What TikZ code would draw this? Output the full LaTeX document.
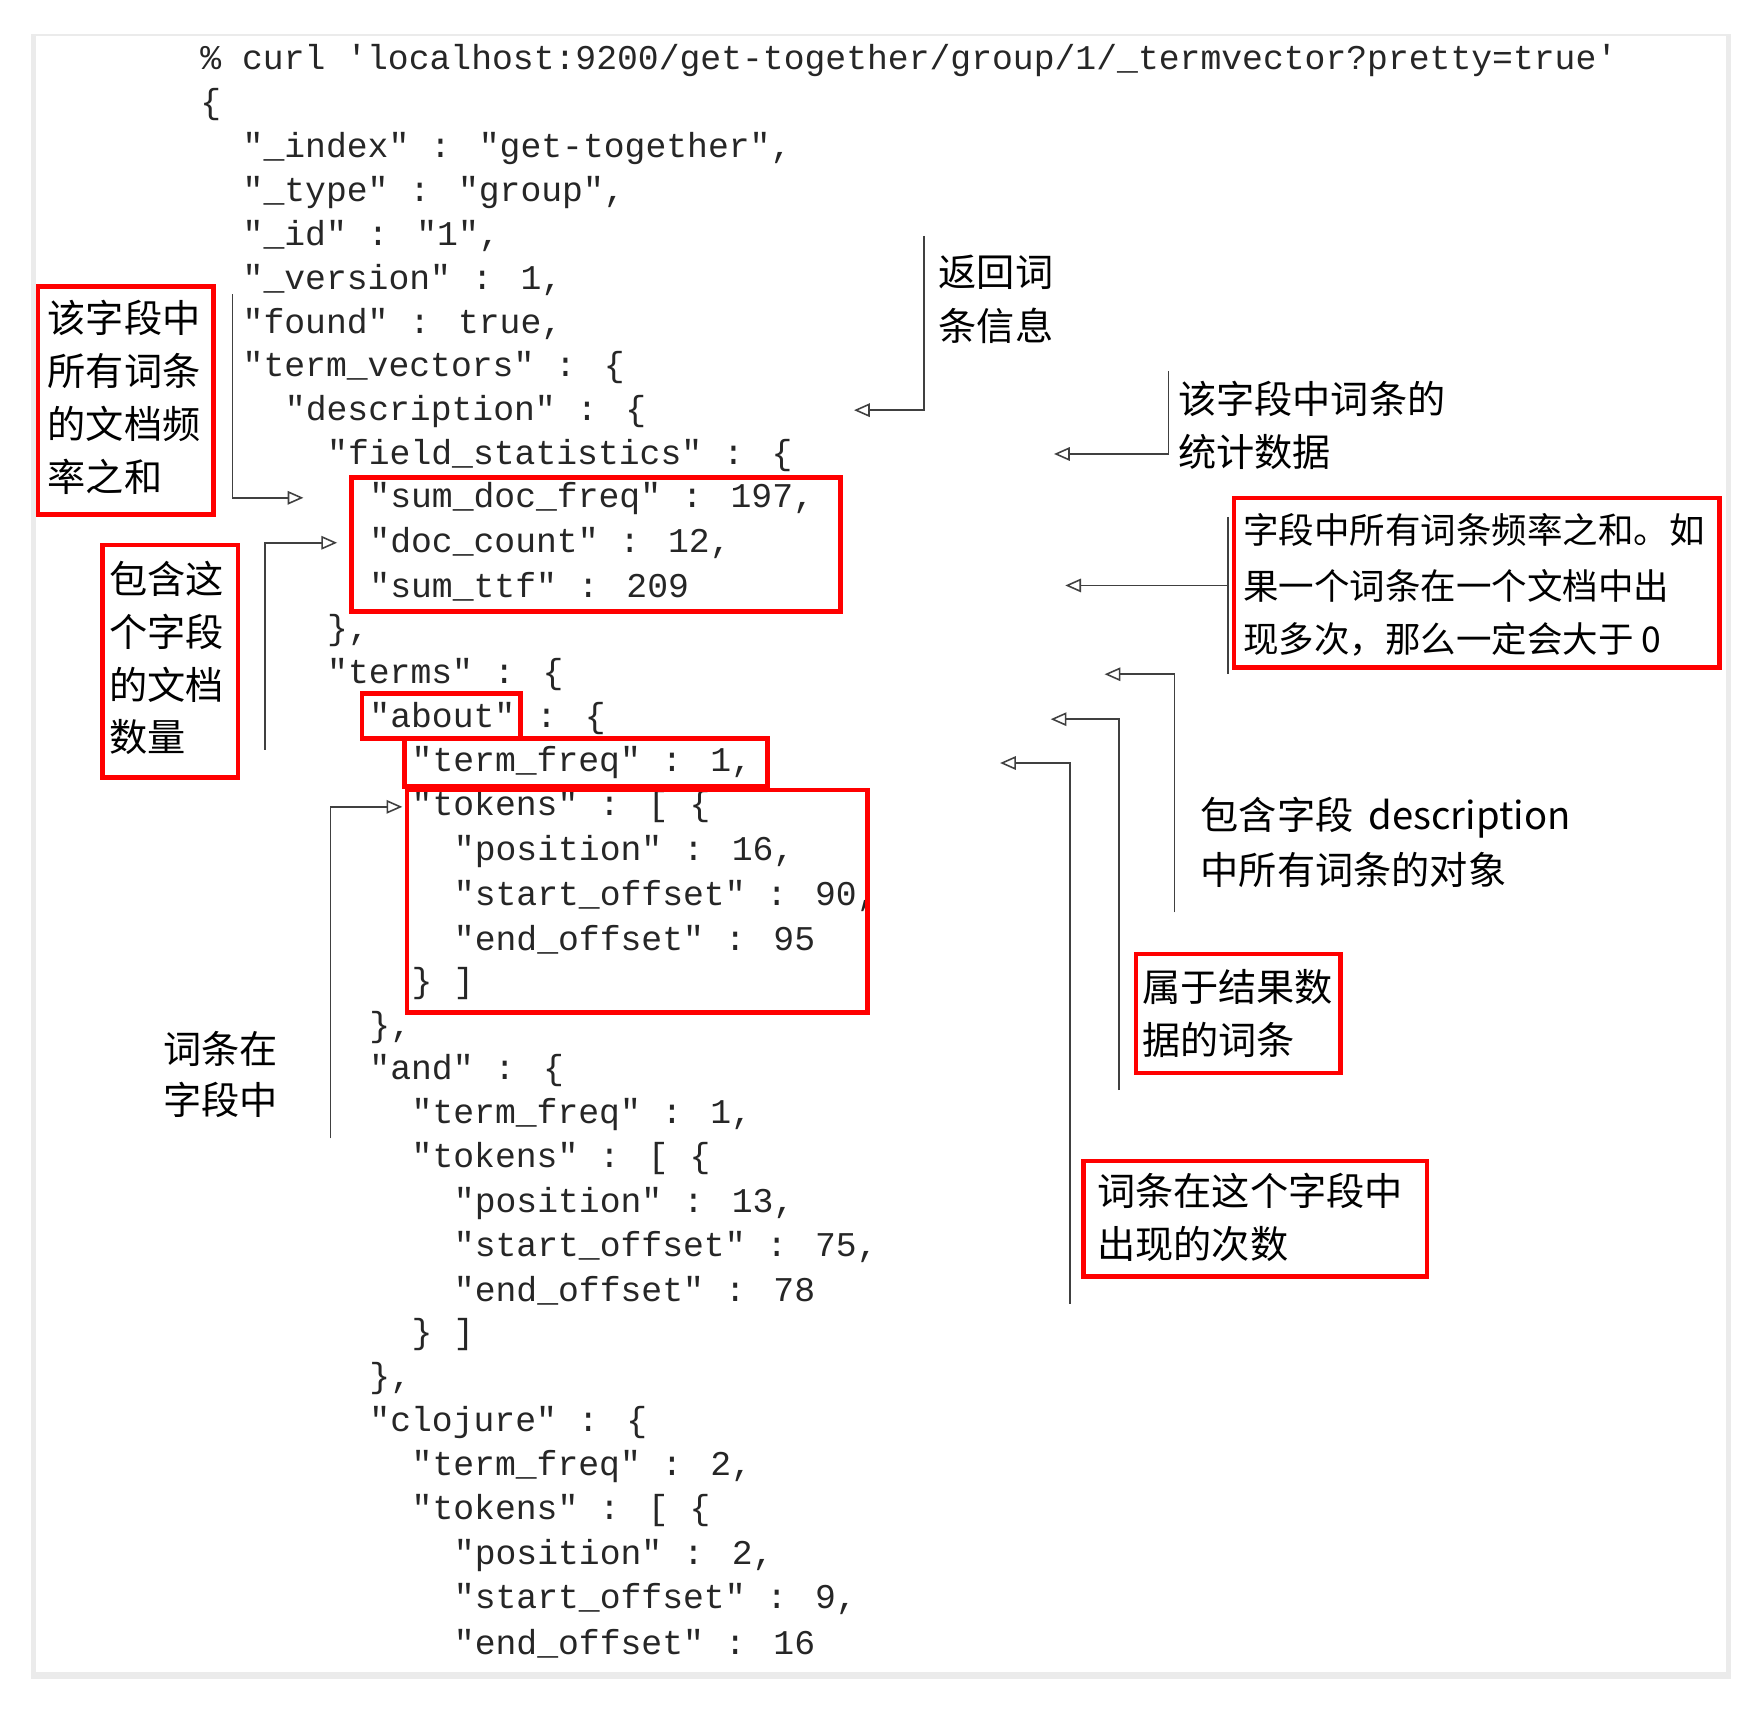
\documentclass[tikz,border=0pt]{standalone}
\usepackage{fontspec}
\newfontfamily\code{Liberation Mono}
\newfontfamily\cjk{Noto Sans CJK SC}
\usetikzlibrary{arrows.meta}
\begin{document}
\begin{tikzpicture}[x=0.5pt,y=-0.5pt,
  cl/.style={anchor=west,inner sep=0pt,text=black!85,font=\code\fontsize{15.45pt}{18pt}\selectfont},
  cn/.style={anchor=west,inner sep=0pt,font=\cjk\fontsize{17pt}{20pt}\selectfont},
  cns/.style={anchor=west,inner sep=0pt,font=\cjk\fontsize{15.8pt}{20pt}\selectfont},
  redbox/.style={draw=red,line width=2pt},
  conn/.style={draw=black!75,line width=0.7pt,-{Triangle[open,length=7pt,width=6pt]}}]
\useasboundingbox (0,0) rectangle (1568,1520);
\fill[white] (0,0) rectangle (1568,1520);
\fill[black!8] (28,30) rectangle (1540,1494);
\fill[white] (32,32) rectangle (1536,1488);
% code
\node[cl] (c1) at (178,54) {\% curl 'localhost:9200/get-together/group/1/\_termvector?pretty=true'};
\node[cl] (c2) at (178,93) {\{};
\node[cl] (c3) at (215.6,132) {"\_index" : "get-together",};
\node[cl] (c4) at (215.6,171) {"\_type" : "group",};
\node[cl] (c5) at (215.6,210) {"\_id" : "1",};
\node[cl] (c6) at (215.6,249) {"\_version" : 1,};
\node[cl] (c7) at (215.6,288) {"found" : true,};
\node[cl] (c8) at (215.6,327) {"term\_vectors" : \{};
\node[cl] (c9) at (253.2,366) {"description" : \{};
\node[cl] (c10) at (290.8,405) {"field\_statistics" : \{};
\node[cl] (c11) at (328.4,444) {"sum\_doc\_freq" : 197,};
\node[cl] (c12) at (328.4,483) {"doc\_count" : 12,};
\node[cl] (c13) at (328.4,522) {"sum\_ttf" : 209};
\node[cl] (c14) at (290.8,561) {\},};
\node[cl] (c15) at (290.8,600) {"terms" : \{};
\node[cl] (c16) at (328.4,639) {"about" : \{};
\node[cl] (c17) at (366,679) {"term\_freq" : 1,};
\node[cl] (c18) at (366,718) {"tokens" : [ \{};
\node[cl] (c19) at (403.6,758) {"position" : 16,};
\node[cl] (c20) at (403.6,797) {"start\_offset" : 90,};
\node[cl] (c21) at (403.6,836) {"end\_offset" : 95};
\node[cl] (c22) at (366,875) {\} ]};
\node[cl] (c23) at (328.4,914) {\},};
\node[cl] (c24) at (328.4,953) {"and" : \{};
\node[cl] (c25) at (366,992) {"term\_freq" : 1,};
\node[cl] (c26) at (366,1031) {"tokens" : [ \{};
\node[cl] (c27) at (403.6,1071) {"position" : 13,};
\node[cl] (c28) at (403.6,1110) {"start\_offset" : 75,};
\node[cl] (c29) at (403.6,1149) {"end\_offset" : 78};
\node[cl] (c30) at (366,1188) {\} ]};
\node[cl] (c31) at (328.4,1227) {\},};
\node[cl] (c32) at (328.4,1266) {"clojure" : \{};
\node[cl] (c33) at (366,1305) {"term\_freq" : 2,};
\node[cl] (c34) at (366,1344) {"tokens" : [ \{};
\node[cl] (c35) at (403.6,1384) {"position" : 2,};
\node[cl] (c36) at (403.6,1423) {"start\_offset" : 9,};
\node[cl] (c37) at (403.6,1463) {"end\_offset" : 16};
% red boxes on code
\draw[redbox] (313,425) rectangle (748,544);
\draw[redbox] (322,617) rectangle (463,657);
\draw[redbox] (360,657) rectangle (683,700);
\draw[redbox] (362,703) rectangle (772,901);
% annotations
\draw[redbox] (34,255) rectangle (190,458);
\node[cn] (a1) at (42,283) {该字段中};
\node[cn] (a2) at (42,330) {所有词条};
\node[cn] (a3) at (42,377) {的文档频};
\node[cn] (a4) at (42,424) {率之和};
\draw[redbox] (91,485) rectangle (212,692);
\node[cn] (b1) at (97,515) {包含这};
\node[cn] (b2) at (97,562) {个字段};
\node[cn] (b3) at (97,609) {的文档};
\node[cn] (b4) at (97,656) {数量};
\draw[redbox] (1098,443) rectangle (1530,594);
\node[cns] (d1) at (1106,472) {字段中所有词条频率之和。如};
\node[cns] (d2) at (1106,521) {果一个词条在一个文档中出};
\node[cns] (d3) at (1106,569) {现多次，那么一定会大于 0};
\draw[redbox] (1011,849) rectangle (1193,955);
\node[cn] (e1) at (1016,878) {属于结果数};
\node[cn] (e2) at (1016,925) {据的词条};
\draw[redbox] (964,1033) rectangle (1270,1136);
\node[cn] (f1) at (976,1060) {词条在这个字段中};
\node[cn] (f2) at (976,1107) {出现的次数};
\node[cn] (g1) at (835,242) {返回词};
\node[cn] (g2) at (835,290) {条信息};
\node[cn] (h1) at (1048,355) {该字段中词条的};
\node[cn] (h2) at (1048,402) {统计数据};
\node[cn] (i1) at (1068,728) {包含字段\hspace{0.4em}description};
\node[cn] (i2) at (1068,774) {中所有词条的对象};
\node[cn] (j1) at (145,933) {词条在};
\node[cn] (j2) at (145,979) {字段中};
% connectors
\draw[conn] (822,210) -- (822,365) -- (760,365);
\draw[conn] (1040,330) -- (1040,404) -- (938,404);
\draw[draw=black!75,line width=0.7pt] (1093,460) -- (1093,600);
\draw[conn] (1093,521) -- (948,521);
\draw[conn] (207,262) -- (207,443) -- (270,443);
\draw[conn] (236,667) -- (236,483) -- (300,483);
\draw[conn] (1045,812) -- (1045,600) -- (983,600);
\draw[conn] (996,970) -- (996,640) -- (935,640);
\draw[conn] (952,1160) -- (952,679) -- (890,679);
\draw[conn] (294,1013) -- (294,718) -- (358,718);
\end{tikzpicture}
\end{document}
